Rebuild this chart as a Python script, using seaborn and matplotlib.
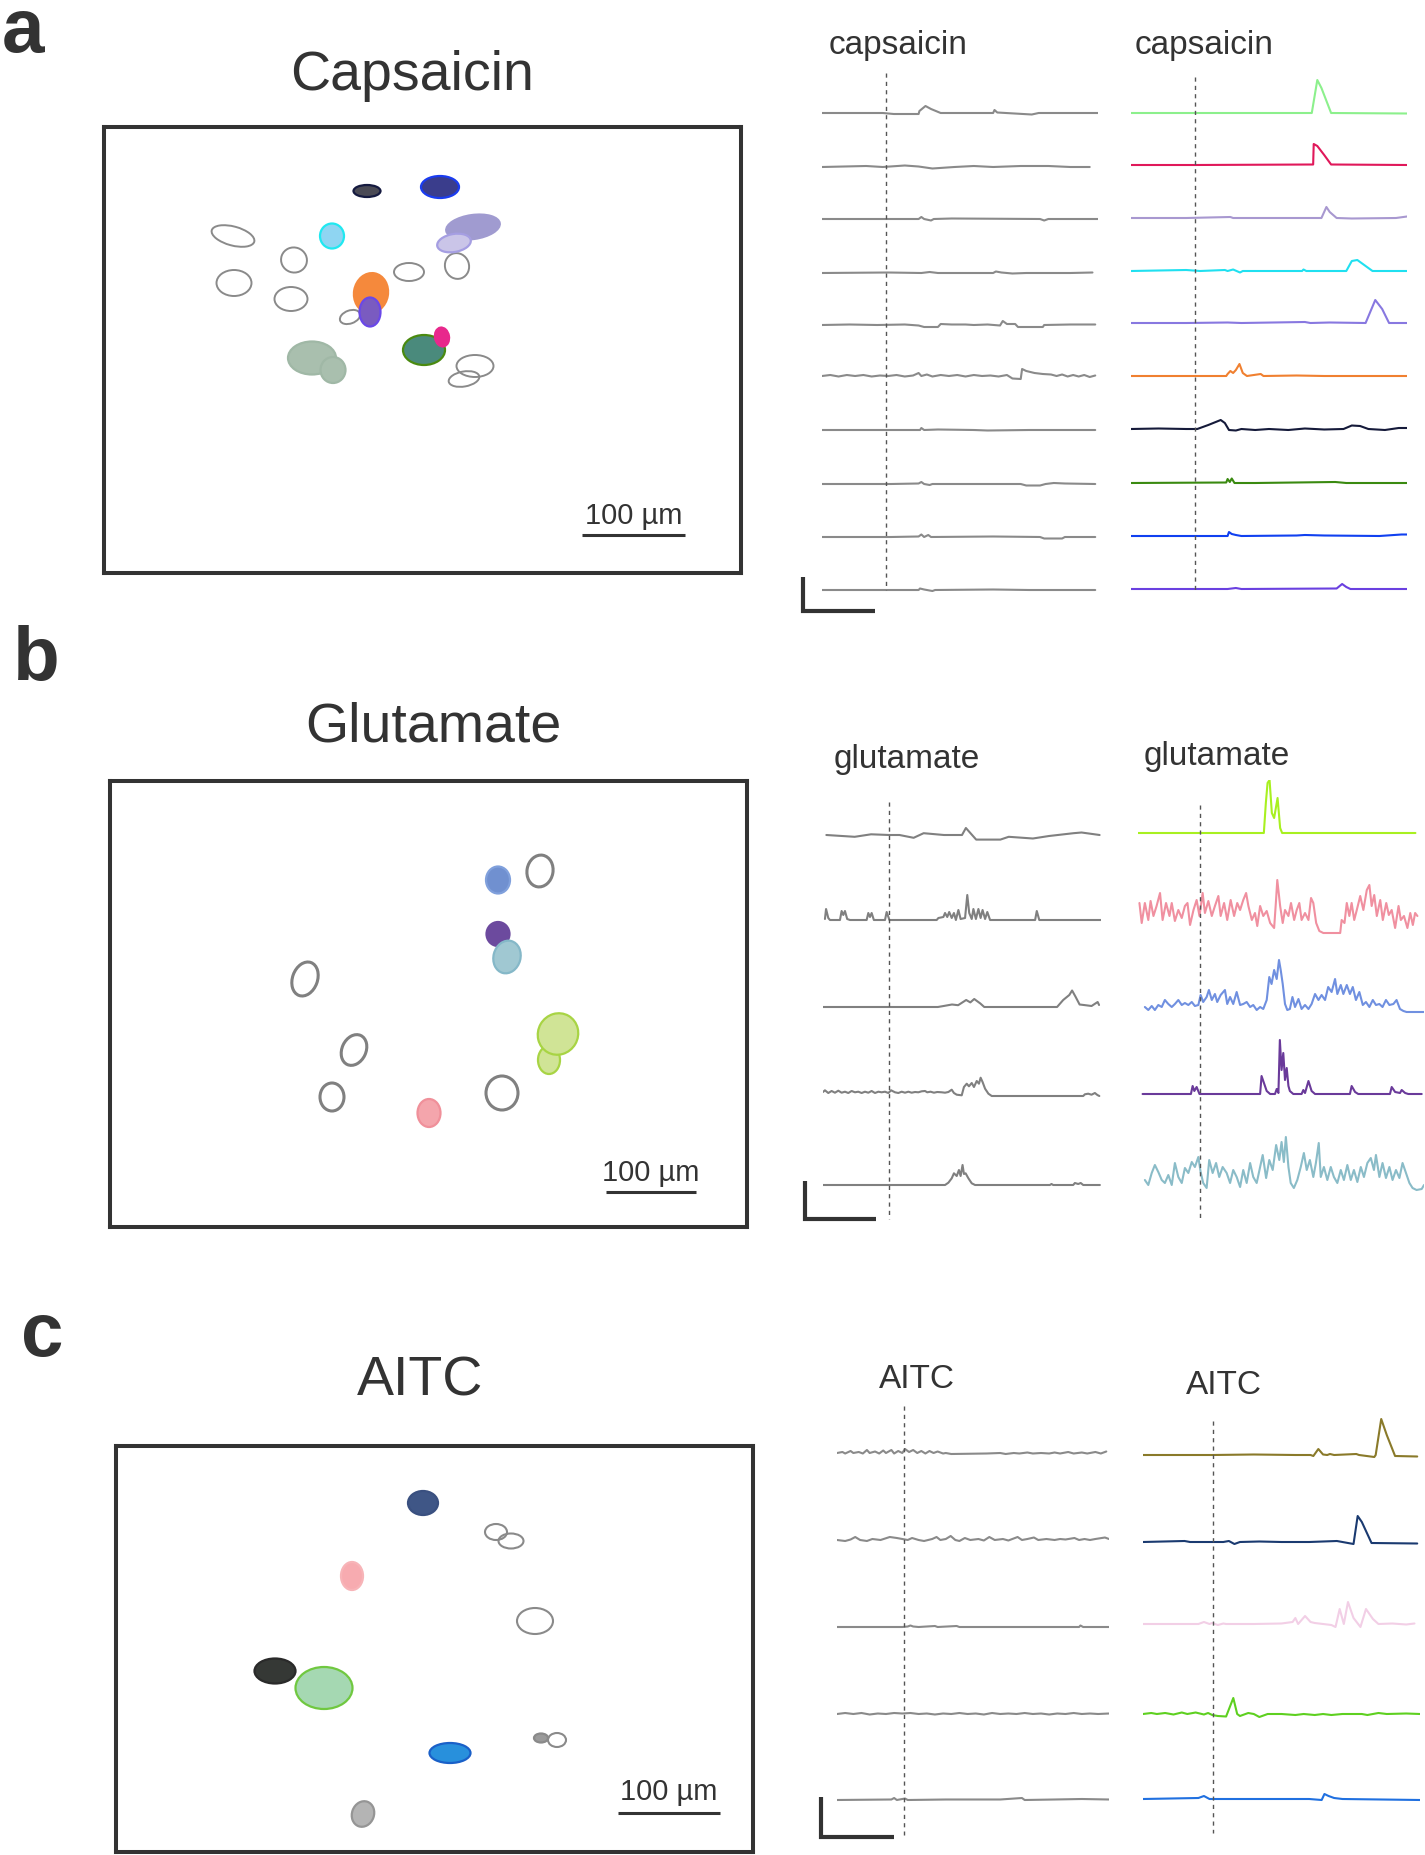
"""
Calcium imaging summary: cell maps and traces for capsaicin, glutamate and AITC
"""
import matplotlib
matplotlib.use('Agg')
import matplotlib.pyplot as plt
from matplotlib.patches import Ellipse
import pandas as pd
import seaborn as sns

# ---------------- data ----------------
# traces: (time in % of recording, dF in arbitrary units)
CAP_CTRL = [
    [(0, 0), (22, 0), (26, -1), (35, -1), (35.3, 2), (37.5, 7), (39.5, 4), (43, 0), (62, 0), (62.5, 3), (63.5, 0.5), (76, -1.5), (78.5, 0), (100, 0)],
    [(0, 0), (8, 0.5), (16, 1), (22, 0), (30, 1.5), (35, 0.5), (40, -1.5), (48, 0), (55, 1), (62, 0), (72, 1), (82, 1), (90, 0), (97, 0)],
    [(0, 0), (35, 0), (36, 2), (37, 0), (39.5, -1.5), (40.5, 0), (47, 0.5), (79, 0), (80.5, -1.5), (82, 0), (100, 0)],
    [(0, 0), (24, 0.5), (36, 0), (39, 1), (42, 0), (62, 0), (63, 1.5), (65, 0.5), (69, -0.5), (74, 0), (90, 0), (98, 0.5)],
    [(0, 0), (10, 0.5), (20, 0), (30, 0.5), (35, -0.5), (37, -2), (42, -2), (43, 1), (47, 0.5), (52, 0.5), (55, 0), (60, 0.5), (64.5, -0.5), (65.5, 4), (67, 1), (70, 1), (71, -2), (80, -2), (80.5, 0), (90, 0.5), (99, 0.5)],
    [(0, 0), (3, 1), (6, -0.5), (9, 1), (12, 0), (15, 1), (18, -0.5), (21, 0.5), (24, 0), (27, 1), (30, -0.5), (33, 0.5), (35, 3), (36, 0), (38, 1.5), (40, -0.5), (43, 1), (46, 0), (49, 1), (52, -0.5), (55, 1), (58, 0), (61, 0.5), (64, -0.5), (67, 1), (69, -2.5), (72, -3), (72.5, 7), (74, 5), (77, 3), (80, 2), (83, 1.5), (85, 0), (87, 1.5), (89, -0.5), (91, 1), (93, -0.5), (95, 1), (97, -1), (99, 0.5)],
    [(0, 0), (30, 0), (35.5, 0), (36, 2), (37, 0), (42, 0.5), (55, 0), (60, -0.5), (75, 0), (99, 0)],
    [(0, 0), (25, 0), (35, 0.5), (36, 2), (37, 0), (39, -1), (40, 0), (72, 0), (74, -1.5), (79, -1.5), (81, 0), (84, 1), (88, 0.5), (99, 0)],
    [(0, 0), (25, 0), (35, 0.5), (36, 2.5), (37, 0), (38.5, 2), (39.5, 0), (62, 0.5), (79, 0), (80.5, -1.5), (87, -1.5), (88, 0), (99, 0)],
    [(0, 0), (35, 0), (35.5, 1.5), (37, 0.5), (40, -1), (41, 0), (62, 0.5), (75, 0), (99, 0)],
]
CAP_RESP = [
    [(0, 0), (65.5, 0), (67.5, 33), (69, 25), (72.5, 0), (100, -0.5)],
    [(0, 0), (23, 0), (66, 0.5), (66.2, 21), (67.5, 19), (70, 10), (72.5, 0.5), (100, 0)],
    [(0, 0), (20, 0), (36, 1), (37, 0), (69, 0), (70.8, 11), (72, 6), (74.5, 0), (80, -0.5), (96, 0), (100, 1.5)],
    [(0, 0), (20, 1), (25, 0), (34, 1), (35, 0), (37, 1.5), (39.5, -1.5), (40.5, 0), (62, 0), (62.5, 1.5), (63.5, 0), (78, 0), (80, 10), (82, 11), (84, 7), (87.5, 0), (100, 0)],
    [(0, 0), (20, 0), (35, 0.5), (40, 0), (63, 1), (65, 0), (72, 0.5), (85, 0), (88.5, 23), (91, 14), (93.5, 0), (100, 0)],
    [(0, 0), (34.5, 0), (35, 2), (36, 5), (37, 3), (38, 6), (39.3, 12), (40.5, 3), (42, 0), (47, 2), (48, 0), (60, 0.5), (70, 0), (100, 0)],
    [(0, 0), (10, 0.5), (20, 0), (24, 0), (28, 4), (32.5, 9), (34, 6), (35.5, -1), (38, -1.5), (40, 0), (45, -1), (50, 0), (57, -1), (63, 0.5), (70, -0.5), (77, 0), (80, 3.5), (83, 3), (86, 0), (92, -1), (97, 1), (100, 1)],
    [(0, 0), (34.5, 0.5), (35, 4), (35.8, 1), (36.5, 4.5), (37.5, 0), (45, 0), (74, 1), (78, 0), (100, 0)],
    [(0, 0), (35, 0), (35.5, 4), (36.5, 2), (38, 1), (40, 0), (60, 0.5), (63, 1), (70, 0.5), (90, 0), (98, 1.5), (100, 1.5)],
    [(0, 0), (35, 0), (38, 1), (40, 0), (74.5, 0.5), (76.5, 5), (78, 2), (79.5, 0), (100, 0)],
]
CAP_COLORS = ['#8cf08c', '#e0185a', '#a898d0', '#20e0f0', '#8878e0',
              '#f08030', '#151a3a', '#3a8a10', '#1040f0', '#6a40e0']

GLU_CTRL = [
    [(1.2, 0), (11.4, -1.8), (17.3, 0.7), (23.8, 0), (27.5, 0), (32.6, -2.8), (36.2, 1.8), (43.5, 0), (50, 0), (51.4, 7), (55.1, -4.6), (63.8, -4.6), (66.8, -1.8), (75.5, -3.5), (81.3, -1), (90.1, 1.8), (93, 2.5), (99.5, 0)],
    [(0.7, 1), (1.1, 11), (1.9, 2), (2.5, 0), (6.1, 0), (6.7, 9), (7.3, 5), (7.9, 9), (8.7, 1), (9.7, 0), (15.7, 0), (16.3, 7), (16.9, 3), (17.5, 7), (18.3, 0), (22.3, 0), (22.9, 8), (23.9, 0), (40.9, 0), (41.5, 2), (43.3, 3), (43.9, 7), (44.7, 3), (45.4, 8), (46.3, 2), (47.1, 7), (47.8, 0), (48.7, 10), (49.5, 1), (51.1, 2), (51.9, 25), (52.6, 7), (53.5, 1), (54.1, 11), (55, 1), (55.9, 11), (56.7, 2), (57.4, 10), (58.3, 1), (59.1, 8), (60.1, 0), (76.3, 0), (76.9, 9), (77.8, 0), (100, 0)],
    [(0, 0), (41.3, 0), (43.4, 1), (46.4, 2.5), (48.6, 1.8), (51.5, 7), (53, 4.6), (54.4, 8), (56.6, 3.5), (58, 0), (84.2, 0), (86.4, 7), (88.6, 12), (89.6, 16.5), (90.8, 10.5), (92.3, 2.5), (94.4, 1.8), (96.6, 1), (98.8, 5), (99.3, 2)],
    [(0, 0), (0.7, 1.7), (1.9, -1), (3.1, 1), (4.3, -0.7), (5.5, 1.3), (6.7, -0.7), (7.9, 0.3), (9.1, -1), (10.3, 1), (11.5, -0.3), (12.7, 0.3), (13.9, -1), (15.1, 0.3), (16.3, -0.7), (17.5, 1), (18.7, -1), (19.9, 0.3), (21.1, -0.3), (22.3, 0.3), (23.5, -1), (24.5, 1.7), (25.9, -0.3), (27.1, -1), (28.3, 0.3), (29.5, -0.7), (30.7, 0.3), (31.9, -0.7), (33.1, 0), (34.3, -0.3), (35.5, 0.7), (36.7, 1), (37.5, -0.3), (38.7, 0.3), (39.9, -0.7), (41.1, 0), (42.7, -0.3), (43.9, -0.7), (45.1, 0), (46.3, 2.3), (47.1, -1), (48.1, -2.7), (49.9, -3.3), (50.7, 5), (51.7, 8.3), (52.5, 5.7), (53.5, 9), (54.3, 5), (55.3, 11), (56.1, 8.3), (56.7, 14.3), (57.4, 10), (58.3, 3.3), (59.5, -1.7), (60.7, -4), (93.6, -4), (94.2, -2.3), (95.4, -1.7), (96.6, -2.7), (97.8, -1), (98.7, -3), (99.4, -4)],
    [(0, 0), (43.9, 0), (45.1, 2.3), (46.3, 6.7), (47.1, 11.7), (48.1, 9), (48.9, 15), (49.5, 9), (50.2, 20), (50.7, 11), (51.3, 11.7), (52.3, 6.7), (53.5, 1.7), (54.7, 0), (81.6, 0), (82.2, 1), (82.8, 0), (90, 0), (90.6, 2), (91.8, 1), (92.7, 2), (93.6, 0), (99.6, 0)],
]
GLU_RESP = [
    [(0, 0), (44, 0), (44.7, 30), (45.3, 50), (46, 53), (46.8, 20), (47.6, 15), (48.8, 35), (49.7, 5), (50.4, 0), (97, 0)],
    [(0.5, 30), (1.3, 10), (2.4, 30), (3.6, 13), (4.4, 32), (5.4, 17), (6.5, 27), (7.7, 40), (8.6, 13), (9.8, 30), (11, 17), (11.8, 30), (12.9, 12), (14.1, 23), (15.3, 15), (16.4, 27), (17.3, 30), (18.2, 8), (19.4, 23), (20.5, 33), (21.5, 17), (22.6, 40), (23.4, 20), (24.6, 32), (25.8, 17), (26.9, 27), (28.1, 37), (28.9, 17), (30.1, 30), (31.2, 13), (32.4, 33), (33.6, 17), (34.7, 30), (35.7, 23), (36.8, 33), (37.8, 40), (38.6, 27), (39.8, 13), (40.9, 20), (41.7, 7), (42.7, 27), (43.8, 17), (45, 22), (46.2, 10), (47.6, 5), (48.2, 30), (48.7, 53), (49.7, 27), (50.6, 10), (51.4, 23), (52.6, 17), (53.5, 30), (54.6, 13), (55.5, 23), (56.4, 30), (57.2, 13), (58.4, 20), (59.6, 13), (60.5, 35), (61.3, 30), (62.3, 10), (63.4, 2), (64.8, 0), (70.7, 0), (71.2, 13), (72.2, 10), (73, 30), (73.9, 17), (74.7, 30), (75.6, 13), (76.5, 23), (77.7, 37), (78.8, 23), (80, 43), (80.9, 48), (81.7, 27), (82.6, 38), (83.5, 17), (84.7, 33), (85.6, 13), (86.8, 30), (87.7, 18), (88.7, 23), (89.9, 5), (91.1, 27), (91.9, 13), (93, 17), (94.2, 5), (95.2, 20), (96.1, 8), (96.9, 20), (97.7, 17)],
    [(2.4, 5), (3.6, 2), (4.8, 6), (5.9, 2), (7.1, 7), (8.3, 5), (9.4, 12), (10.6, 8), (11.8, 5), (12.9, 8), (14.1, 12), (15.3, 7), (16.4, 9), (17.6, 7), (18.8, 10), (19.9, 6), (21.1, 7), (21.9, 17), (22.8, 10), (24, 15), (24.8, 22), (25.8, 12), (26.9, 18), (27.7, 10), (28.9, 17), (30.4, 22), (31.2, 8), (32.2, 15), (33.3, 8), (34.5, 20), (35.7, 7), (36.8, 8), (38, 10), (39.2, 5), (40.3, 7), (41.5, 2), (42.7, 5), (43.8, 3), (45, 12), (45.9, 35), (46.7, 28), (47.6, 42), (48.5, 33), (49.3, 52), (49.9, 42), (50.6, 28), (51.4, 8), (52.2, 2), (53.1, 3), (54, 15), (54.9, 5), (56.1, 13), (57.2, 3), (58.4, 7), (59.6, 3), (60.7, 8), (61.9, 18), (63.1, 12), (64.2, 17), (65.4, 12), (66.5, 25), (67.7, 20), (68.9, 33), (69.7, 18), (70.9, 27), (71.8, 18), (73, 27), (74.1, 18), (75.1, 25), (76.2, 12), (77.4, 20), (78.6, 7), (79.7, 10), (80.9, 5), (82.1, 12), (83.2, 7), (84.4, 8), (85.5, 5), (86.7, 12), (87.9, 7), (89.3, 8), (90.4, 12), (91.6, 3), (92.8, 1), (93.9, 0), (100, 0)],
    [(1.6, 0), (18.5, 0), (19.1, 8), (19.7, 3), (20.5, 7), (21.5, 0), (42.7, 0), (43.2, 18), (45, 3), (46.2, 0), (47.9, 0), (48.5, 5), (49.1, 1), (49.6, 54), (50.2, 24), (50.8, 41), (51.4, 14), (52, 26), (52.6, 8), (53.1, 3), (54.3, 0), (57.2, 0), (57.8, 4), (58.4, 1), (59.6, 13), (60.7, 3), (61.9, 0), (74.1, 0), (74.7, 8), (75.9, 2), (77, 0), (88.1, 0), (88.7, 7), (89.9, 2), (91.6, 1), (92.2, 4), (93.4, 1), (94.5, 0), (99.2, 0)],
    [(2.4, 10), (3.6, 5), (4.8, 17), (5.9, 25), (7.1, 18), (8.3, 10), (9.4, 7), (10.6, 15), (11.8, 5), (12.9, 27), (14.1, 13), (15.3, 7), (16.4, 22), (17.6, 17), (18.8, 28), (19.9, 23), (21.1, 33), (21.9, 18), (22.8, 7), (24, 2), (24.9, 30), (26.1, 17), (27.3, 27), (28.4, 13), (29.6, 23), (31, 17), (32.2, 7), (33.3, 20), (34.5, 13), (35.7, 3), (36.8, 20), (38, 7), (39.2, 27), (40.3, 13), (41.5, 7), (42.7, 23), (43.6, 35), (44.8, 12), (45.9, 30), (47.1, 20), (48.3, 45), (49.4, 30), (50.2, 48), (51, 28), (51.7, 53), (52.6, 23), (53.4, 7), (54.5, 2), (55.7, 10), (56.9, 23), (58, 37), (59, 20), (60.1, 30), (61.3, 13), (62.2, 27), (63.2, 47), (63.9, 13), (65, 23), (66.2, 10), (67.4, 23), (68.5, 13), (69.7, 7), (70.9, 20), (72, 10), (73.2, 25), (74.4, 10), (75.5, 20), (76.7, 8), (77.9, 23), (79, 13), (80.2, 27), (81.4, 32), (82.5, 20), (83.2, 35), (84.4, 13), (85.5, 27), (86.7, 12), (87.9, 23), (89, 10), (90.2, 20), (91.4, 12), (92.5, 27), (93.7, 17), (94.9, 7), (96, 2), (97.4, 0), (99.2, 1), (100, 5)],
]
GLU_COLORS = ['#a8f020', '#f090a0', '#7090e0', '#6a3a9a', '#8abcc8']

AITC_CTRL = [
    [(0, 1), (2, 2), (3, 0.5), (5, 3), (6, 1), (8, 2), (9.5, 0.5), (11, 4), (12, 1), (14, 2.5), (15.5, 0.5), (17, 3.5), (18, 1), (20, 4), (21, 0.5), (22.5, 3), (24, 1), (25, 5), (26.5, 2), (28, 4), (29.5, 1), (31, 3), (32.5, 0.5), (34, 3), (35.5, 1), (37, 2.5), (39, 0.5), (40, 1), (42, 0), (55, 0.5), (60, 1), (62, 0), (65, 1), (67, 0.5), (70, 1.5), (72, 0.5), (75, 1), (78, 0.5), (80, 1.5), (82, 0.5), (85, 2), (87, 0.5), (90, 1.5), (92, 0.5), (95, 2), (97, 0.5), (99, 2.5)],
    [(0, 0), (3, -1), (5, 0.5), (6.7, 3), (8.5, 0), (11, -1), (13, 1), (16, 0), (19.4, 3), (22, 2), (24, 1), (26, 0), (27.6, 2), (30, 0), (32, -1), (35, 1), (36.6, 3), (38, 0), (40, 1), (41.8, 4), (43.5, 0), (45, -1), (47, 2), (49, 0), (52, 1), (54, -0.5), (56, 3), (58, 0), (61, 1), (63, -0.5), (66.4, 3), (68, 0), (70, 1), (72.4, 2.5), (74, 0), (77, 1), (80, 0), (82, 1), (84, 0.5), (87.3, 2), (89, 0), (91, 1), (93, 0), (95, 1), (98.5, 2.5), (100, 1)],
    [(0, 0), (24, 0), (26, 0.5), (27, 1.5), (28, 0.5), (30, 0), (36, 1), (37, 0), (44, 1), (45, 0), (89, 0), (89.5, 1.5), (90.5, 0), (100, 0)],
    [(0, 0), (3, 1), (6, 0), (9, 1), (12, -0.5), (15, 0.5), (18, 0), (21, 1), (24, 0.5), (27, 1), (30, 0), (33, 0.5), (36, -0.5), (39, 0.5), (42, 0), (45, 1), (48, 0), (51, 0.5), (54, -0.5), (57, 1), (60, 0), (63, 0.5), (66, 0), (69, 1), (72, 0), (75, 0.5), (78, -0.5), (81, 0.5), (84, 0), (87, 1), (90, 0), (93, 0.5), (96, 0), (100, 0.5)],
    [(0, 0), (20, 0.5), (21, 2), (22, 0), (25, 1.5), (26, 0), (40, 0.5), (60, 0.5), (68, 2), (69, 0), (80, 0.5), (90, 1), (100, 0.5)],
]
AITC_RESP = [
    [(0, 0), (25, 0), (40, 0.5), (55, 0), (60.5, 0), (61.5, -1), (63.3, 6), (65, 0.5), (66.5, 0), (67.5, 1), (69, 0), (77, 1), (78, 0), (83.5, -2), (84, 0), (86, 36), (88, 20), (91, -1), (99, -1.5)],
    [(0, 0), (15, 1), (17, 0), (29, 0), (31, 1), (33, -2), (35, 0), (42, 0.5), (50, 0), (60, 0), (70, 1), (76, -2), (77.5, 26), (79, 20), (82.5, -1), (99, -1.5)],
    [(0, 0), (20, 0), (22, 2), (24, 0), (25, 1), (27, -1), (29, 0.5), (30, 0), (40, 0), (50, 0.5), (54, 2), (55, 6), (56, 0), (58.5, 8), (60.5, 2), (62, 1), (68, -1), (69.5, -3), (71, 15), (72.5, 0), (74, 22), (76, 6), (78.5, -3), (80.5, 15), (83, 5), (85, 0), (90, 0.5), (95, -0.5), (98, 0.5)],
    [(0, 0), (3, 1), (5, 0), (8, 1), (11, -0.5), (14, 1.5), (16, 0), (19, 1.5), (22, -0.5), (23.5, 1), (25, -1), (27, -2), (30, -2.5), (32.6, 16), (34, 0), (35, -2), (38, 1), (40, 0), (42, -3), (45, 0), (50, 0), (55, -1), (58, 0), (62, -1), (65, 0), (68, -1), (72, 0), (79, 0), (81, -1), (85, 1), (88, 0), (95, 0.5), (100, 0)],
    [(0, 0), (20, 1), (22, 3), (24, 0), (30, 0), (60, 0), (64.5, -1), (65.5, 5), (67, 3), (69, 1), (72, 0), (100, -1)],
]
AITC_COLORS = ['#8a7a2a', '#1a3a70', '#f2cfe6', '#5ed020', '#2070e0']

# stimulus onset (time in %), control column / responder column
CAP_STIM = [23.2, 23.2]
GLU_STIM = [23.7, 21.8]
AITC_STIM = [24.6, 25.3]

# cell outlines: (x, y, width, height, angle, fill, edge); fill 'none' = non-responder
CAP_CELLS = [
    (233, 236, 44, 19, 15, 'none', '#8a8a8a'), (294, 260, 26, 25, 20, 'none', '#8a8a8a'),
    (234, 283, 35, 26, 0, 'none', '#8a8a8a'), (291, 299, 33, 24, 0, 'none', '#8a8a8a'),
    (409, 272, 30, 18, 0, 'none', '#8a8a8a'), (457, 266, 26, 24, 70, 'none', '#8a8a8a'),
    (350, 317, 21, 13, -20, 'none', '#8a8a8a'), (475, 366, 37, 22, 0, 'none', '#8a8a8a'),
    (464, 379, 31, 15, -10, 'none', '#8a8a8a'),
    (367, 191, 27, 12, 0, '#4a4a55', '#151a40'), (440, 187, 38, 22, 0, '#3a3d8c', '#1a3cf0'),
    (332, 236, 24, 25, 0, '#8fd5f2', '#20e8f0'), (473, 227, 54, 24, -8, '#a09bd0', '#a09bd0'),
    (454, 243, 34, 18, -10, '#cac5e8', '#a59ee2'), (371, 293, 34, 40, 10, '#f5893c', '#f5893c'),
    (370, 312, 21, 29, 0, '#7a5bc0', '#6a48e8'), (312, 358, 48, 33, 0, '#a9bfae', '#a0b8a6'),
    (333, 370, 25, 26, 0, '#a9bfae', '#a0b8a6'), (424, 350, 42, 30, 0, '#4a8a7c', '#4a8a10'),
    (442, 337, 14, 19, -10, '#e8288c', '#e8288c'),
]
GLU_CELLS = [
    (540, 871, 26, 32, 10, 'none', '#808080'), (305, 979, 25, 35, 20, 'none', '#808080'),
    (354, 1050, 24, 32, 25, 'none', '#808080'), (332, 1097, 24, 28, 0, 'none', '#808080'),
    (502, 1093, 32, 34, 0, 'none', '#808080'),
    (498, 880, 24, 27, 0, '#7090d0', '#80a0dc'), (498, 934, 23, 24, 0, '#6c4a9e', '#6c4a9e'),
    (507, 957, 27, 33, 15, '#a0c8d2', '#85b8c8'), (549, 1060, 22, 28, 0, '#d0e496', '#a8d444'),
    (558, 1034, 40, 42, 30, '#d0e496', '#a8d444'), (429, 1113, 23, 28, 0, '#f4a5ac', '#f0909a'),
]
AITC_CELLS = [
    (496, 1532, 22, 16, 0, 'none', '#8a8a8a'), (511, 1541, 25, 15, 0, 'none', '#8a8a8a'),
    (535, 1621, 36, 26, 0, 'none', '#8a8a8a'), (557, 1740, 18, 14, 0, 'none', '#8a8a8a'),
    (541, 1738, 14, 9, 0, '#9a9a9a', '#8a8a8a'), (363, 1814, 22, 26, 20, '#b4b4b4', '#959595'),
    (423, 1503, 30, 24, 0, '#3f5686', '#3a5080'), (352, 1576, 22, 28, 0, '#f7abb0', '#f7b4b8'),
    (275, 1671, 41, 25, 0, '#353835', '#2a2a2a'), (324, 1688, 57, 42, 0, '#a5d8b2', '#70c840'),
    (450, 1753, 41, 20, 0, '#2890dc', '#1a60c8'),
]

# ---------------- style ----------------
W, H = 1425, 1855
sns.set_style('white')
plt.rcParams['font.family'] = ['Liberation Sans', 'DejaVu Sans']
TEXT = '#333333'
CTRL_GRAY = '#8a8a8a'


def px_axes(fig, x0, y0, x1, y1):
    """Axes placed by pixel box (top-left origin)"""
    return fig.add_axes([x0 / W, 1 - y1 / H, (x1 - x0) / W, (y1 - y0) / H])


def draw_cells(fig, cells, box, lw_hollow):
    x0, y0, x1, y1 = box
    ax = px_axes(fig, x0, y0, x1, y1)
    for x, y, w, h, ang, face, edge in cells:
        lw = lw_hollow if face == 'none' else 1.6
        ax.add_patch(Ellipse((x, y), w, h, angle=ang, facecolor=face,
                             edgecolor=edge, lw=lw))
    ax.set_xlim(x0, x1)
    ax.set_ylim(y1, y0)
    ax.set_xticks([])
    ax.set_yticks([])
    for s in ax.spines.values():
        s.set_linewidth(2.9)
        s.set_color(TEXT)
    ax.set_facecolor('white')
    return ax


def draw_traces(fig, traces, colors, xr, yr, baselines, stim_t, stim_span, lw=1.5):
    ax = px_axes(fig, xr[0], yr[0], xr[1], yr[1])
    for tr, c, b in zip(traces, colors, baselines):
        df = pd.DataFrame(tr, columns=['t', 'dff'])
        df['y'] = df['dff'] - b
        sns.lineplot(data=df, x='t', y='y', ax=ax, color=c, linewidth=lw,
                     estimator=None, sort=False, legend=False)
    ax.plot([stim_t, stim_t], [-stim_span[0], -stim_span[1]], color='#555555',
            lw=1.0, ls=(0, (3, 3)))
    ax.set_xlim(0, 100)
    ax.set_ylim(-yr[1], -yr[0])
    ax.axis('off')
    return ax


fig = plt.figure(figsize=(W / 100, H / 100), dpi=100)

# ---------- panel a ----------
draw_cells(fig, CAP_CELLS, (104, 127, 741, 573), 1.4)
draw_traces(fig, CAP_CTRL, [CTRL_GRAY] * 10, (822, 1098), (60, 620),
            [113, 167, 219, 273, 325, 376, 430, 484, 537, 590], CAP_STIM[0], (73, 590))
draw_traces(fig, CAP_RESP, CAP_COLORS, (1131, 1407), (60, 620),
            [113, 165, 218, 271, 323, 376, 429, 483, 536, 589], CAP_STIM[1], (77, 590))

# ---------- panel b ----------
draw_cells(fig, GLU_CELLS, (110, 781, 747, 1227), 2.2)
draw_traces(fig, GLU_CTRL, ['#808080'] * 5, (823, 1101), (780, 1240),
            [835, 920, 1007, 1092, 1185], GLU_STIM[0], (802, 1219))
draw_traces(fig, GLU_RESP, GLU_COLORS, (1138, 1424), (780, 1240),
            [833, 933, 1012, 1094, 1190], GLU_STIM[1], (805, 1221))

# ---------- panel c ----------
draw_cells(fig, AITC_CELLS, (116, 1446, 753, 1852), 1.5)
draw_traces(fig, AITC_CTRL, [CTRL_GRAY] * 5, (837, 1109), (1400, 1850),
            [1454, 1540, 1627, 1714, 1800], AITC_STIM[0], (1406, 1835))
draw_traces(fig, AITC_RESP, AITC_COLORS, (1143, 1420), (1400, 1850),
            [1455, 1542, 1624, 1714, 1799], AITC_STIM[1], (1421, 1833))

# ---------- text and scale bars ----------
deco = fig.add_axes([0, 0, 1, 1])
deco.set_xlim(0, W)
deco.set_ylim(H, 0)
deco.axis('off')

for s, x, y in [('a', 2, 52), ('b', 13, 680), ('c', 21, 1356)]:
    deco.text(x, y, s, fontsize=55, fontweight='bold', color=TEXT, ha='left', va='baseline')

for s, x, y in [('Capsaicin', 412, 90), ('Glutamate', 433, 742), ('AITC', 420, 1396)]:
    deco.text(x, y, s, fontsize=40, color=TEXT, ha='center', va='baseline')

for s, x, y in [('capsaicin', 829, 54), ('capsaicin', 1135, 54),
                ('glutamate', 834, 768), ('glutamate', 1144, 765),
                ('AITC', 879, 1388), ('AITC', 1186, 1394)]:
    deco.text(x, y, s, fontsize=24, color=TEXT, ha='left', va='baseline')

# 100 um bars
for x0, x1, yb, yt in [(582, 685, 535, 524), (606, 696, 1192, 1181), (618, 720, 1813, 1800)]:
    deco.plot([x0, x1], [yb, yb], color=TEXT, lw=2.2, solid_capstyle='butt')
    deco.text((x0 + x1) / 2, yt, '100 µm', fontsize=21, color=TEXT, ha='center', va='baseline')

# trace scale L-bars
for xv, yt, yb, xh in [(803, 577, 611, 875), (805, 1181, 1219, 876), (821, 1797, 1837, 894)]:
    deco.plot([xv, xv, xh], [yt, yb, yb], color=TEXT, lw=3.0,
              solid_joinstyle='miter', solid_capstyle='butt')

plt.savefig('out.png', dpi=100, facecolor='white')
plt.close()
